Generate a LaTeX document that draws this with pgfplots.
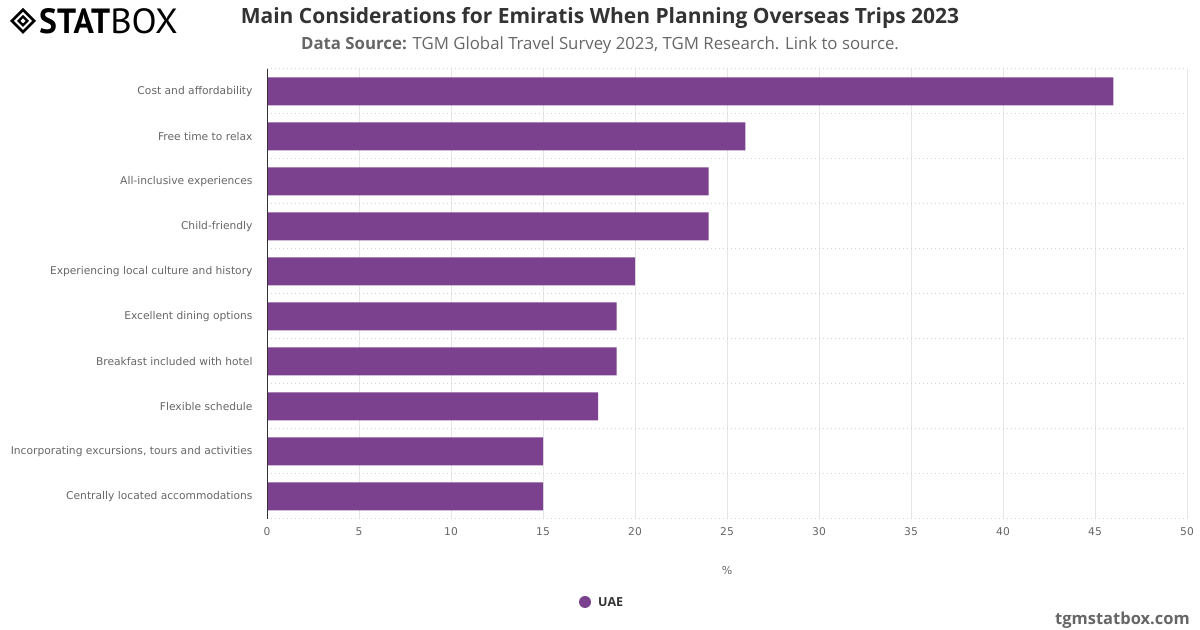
\documentclass[border=0pt]{standalone}
\usepackage{fontspec}
\setmainfont{Open Sans}
\newfontfamily\tickfont{DejaVu Sans}
\newfontfamily\logofont{PT Sans}
\usepackage{pgfplots}
\pgfplotsset{compat=1.18}

\definecolor{barpurple}{HTML}{7B418F}
\definecolor{txtgray}{HTML}{666666}
\definecolor{titlegray}{HTML}{333333}
\definecolor{gridgray}{HTML}{E6E6E6}

\pgfplotstableread[col sep=comma]{
idx,value
0,46
1,26
2,24
3,24
4,20
5,19
6,19
7,18
8,15
9,15
}\considerations

\begin{document}
\begin{tikzpicture}[x=1bp,y=1bp]
\path (0,0) rectangle (1200,630);

% logo
\begin{scope}[shift={(23,609)}]
  \fill[black] (-13,0) -- (0,13) -- (13,0) -- (0,-13) -- cycle;
  \fill[white] (-9,0) -- (0,9) -- (9,0) -- (0,-9) -- cycle;
  \fill[black] (-6,0) -- (0,6) -- (6,0) -- (0,-6) -- cycle;
  \fill[white] (-2.5,0) -- (0,2.5) -- (2.5,0) -- (0,-2.5) -- cycle;
\end{scope}
\node[anchor=west, inner sep=0pt] at (39,609)
  {\scalebox{0.96}[1]{\fontsize{35bp}{35bp}\selectfont\logofont\bfseries STAT}%
   \scalebox{1.05}[1]{\fontsize{35bp}{35bp}\selectfont\logofont BOX}};

% title and source line
\node[text=titlegray, inner sep=0pt] at (600,612)
  {\fontsize{21bp}{24bp}\selectfont\bfseries Main Considerations for Emiratis When Planning Overseas Trips 2023};
\node[text=txtgray, inner sep=0pt] at (600,585)
  {\fontsize{16.8bp}{20bp}\selectfont\textbf{Data Source:} TGM Global Travel Survey 2023, TGM Research. Link to source.};

\begin{axis}[
  at={(267bp,111bp)}, anchor=south west,
  scale only axis, width=920bp, height=450bp,
  xmin=0, xmax=50, ymin=-0.5, ymax=9.5, y dir=reverse,
  xbar, bar width=28bp,
  xtick={0,5,...,50},
  ytick={0,...,9},
  yticklabels={Cost and affordability, Free time to relax, All-inclusive experiences, Child-friendly, Experiencing local culture and history, Excellent dining options, Breakfast included with hotel, Flexible schedule, {Incorporating excursions, tours and activities}, Centrally located accommodations},
  minor ytick={-0.5,0.5,...,9.5},
  xmajorgrids, major x grid style={draw=gridgray, line width=1bp},
  yminorgrids, minor y grid style={draw=gridgray!80!gray, line width=1bp, dash pattern=on 1bp off 3bp},
  axis line style={draw=none},
  major tick length=0pt, minor tick length=0pt,
  tick label style={text=txtgray, font=\tickfont\fontsize{10.7bp}{12bp}\selectfont},
  /pgf/number format/assume math mode=true,
  yticklabel style={xshift=-11bp},
  xticklabel style={yshift=-5bp},
  clip=false,
]
\addplot[fill=barpurple, draw=none] table[x=value, y=idx] {\considerations};
\draw[titlegray, line width=1bp] (axis cs:0,-0.5) -- (axis cs:0,9.5);
\end{axis}

\node[text=txtgray] at (727,59) {\tickfont\fontsize{11bp}{13bp}\selectfont\%};

% legend
\fill[barpurple] (585,28) circle (6);
\node[anchor=west, text=titlegray, inner sep=0pt] at (598,28)
  {\fontsize{12.5bp}{14bp}\selectfont\bfseries UAE};

% site mark
\node[anchor=east, text=txtgray, inner sep=0pt] at (1190,10)
  {\fontsize{16.5bp}{20bp}\selectfont\bfseries tgmstatbox.com};
\end{tikzpicture}
\end{document}
